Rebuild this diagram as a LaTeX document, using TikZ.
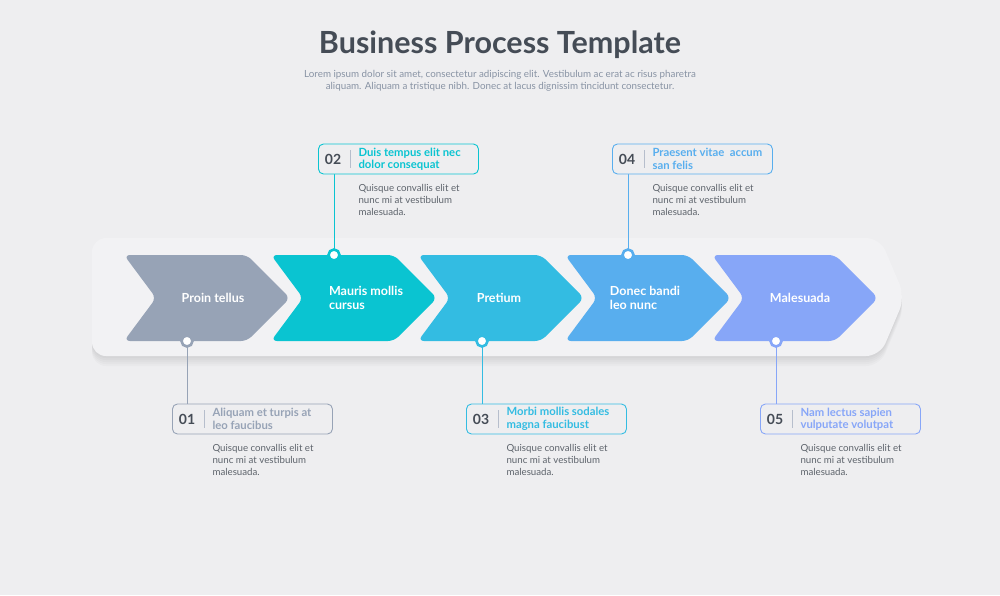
\documentclass[tikz,border=0pt]{standalone}
\usepackage{fontspec}
\setmainfont{Lato}
\definecolor{bg}{HTML}{EEEEF0}
\definecolor{band}{HTML}{F2F2F4}
\definecolor{dark}{HTML}{454C56}
\definecolor{txt}{HTML}{5E646C}
\definecolor{cA}{HTML}{97A3B6}
\definecolor{cB}{HTML}{0AC4D1}
\definecolor{cC}{HTML}{33BCE2}
\definecolor{cD}{HTML}{58AEEE}
\definecolor{cE}{HTML}{87A6F8}
\tikzset{
 chev/.style={fill=#1,rounded corners=6pt},
 lbl/.style={text=white,font=\bfseries\fontsize{12.5}{13.5}\selectfont,align=left},
 box/.style={draw=#1,line width=0.9pt,rounded corners=5pt,fill=bg,minimum width=160pt,minimum height=30pt},
 num/.style={text=dark,font=\bfseries\fontsize{14}{15}\selectfont},
 ttl/.style={text=#1,font=\bfseries\fontsize{11.3}{12.5}\selectfont,align=left,anchor=west},
 desc/.style={text=txt,font=\fontsize{9.7}{12}\selectfont,align=left,anchor=north west},
 dot/.style={circle,draw=#1,line width=2.6pt,fill=white,inner sep=0,minimum size=11pt},
 bandshape/.style={rounded corners=14pt},
}
\begin{document}
\begin{tikzpicture}[x=1pt,y=-1pt]
\fill[bg] (0,0) rectangle (1000,595);
\useasboundingbox (0,0) rectangle (1000,595);
\node[text=dark,font=\bfseries\fontsize{30.5}{33}\selectfont] (title) at (500,45) {Business Process Template};
\node[text=cA!90!black,font=\fontsize{9.8}{12}\selectfont,align=center] (sub) at (500,81) {Lorem ipsum dolor sit amet, consectetur adipiscing elit. Vestibulum ac erat ac risus pharetra\\aliquam. Aliquam a tristique nibh. Donec at lacus dignissim tincidunt consectetur.};
% band shadow (stacked translucent layers)
\foreach \s in {2,4,6,8,10}{
 \fill[black,opacity=0.018,bandshape,yshift=-\s] (92,238) -- (880,238) -- (905,297) -- (880,356) -- (92,356) -- cycle;
}
\fill[band,bandshape] (92,238) -- (880,238) -- (905,297) -- (880,356) -- (92,356) -- cycle;
% chevrons
\foreach \i/\c in {0/cA,1/cB,2/cC,3/cD,4/cE}{
 \fill[chev=\c,xshift=\i*147] (124,255) -- (247,255) -- (290,298) -- (247,341) -- (124,341) -- (156,298) -- cycle;
}
\node[lbl] (a1) at (213,298) {Proin tellus};
\node[lbl] (a2) at (366,298) {Mauris mollis\\cursus};
\node[lbl] (a3) at (499,298) {Pretium};
\node[lbl] (a4) at (645,298) {Donec bandi\\leo nunc};
\node[lbl] (a5) at (800,298) {Malesuada};
% callouts
\newcommand{\callout}[9]{%
 \coordinate (d#1) at (#3,#4);
 \coordinate (c#1) at (#5,#6);
 \draw[#2,line width=0.9pt] (d#1) -- (d#1 |- c#1);
 \node[box=#2,anchor=west] (b#1) at (c#1) {};
 \node[dot=#2] (o#1) at (d#1) {};
 \node[num] (n#1) at (#5+15,#6) {#7};
 \draw[cA!70,line width=0.8pt] (#5+32,#6-9) -- (#5+32,#6+9);
 \node[ttl=#2] (t#1) at (#5+37,#6) {#8};
 \node[desc] (q#1) at (#5+37,#6+22) {#9};
}
\def\qd{Quisque convallis elit et\\nunc mi at vestibulum\\malesuada.}
\callout{1}{cA}{187}{341}{172}{419}{01}{Aliquam et turpis at\\leo faucibus}{\qd}
\callout{2}{cB}{334}{255}{318}{159}{02}{Duis tempus elit nec\\dolor consequat}{\qd}
\callout{3}{cC}{482}{341}{466}{419}{03}{Morbi mollis sodales\\magna faucibust}{\qd}
\callout{4}{cD}{628}{255}{612}{159}{04}{Praesent vitae\ \ accum\\san felis}{\qd}
\callout{5}{cE}{776}{341}{760}{419}{05}{Nam lectus sapien\\vulputate volutpat}{\qd}
\end{tikzpicture}
\end{document}
